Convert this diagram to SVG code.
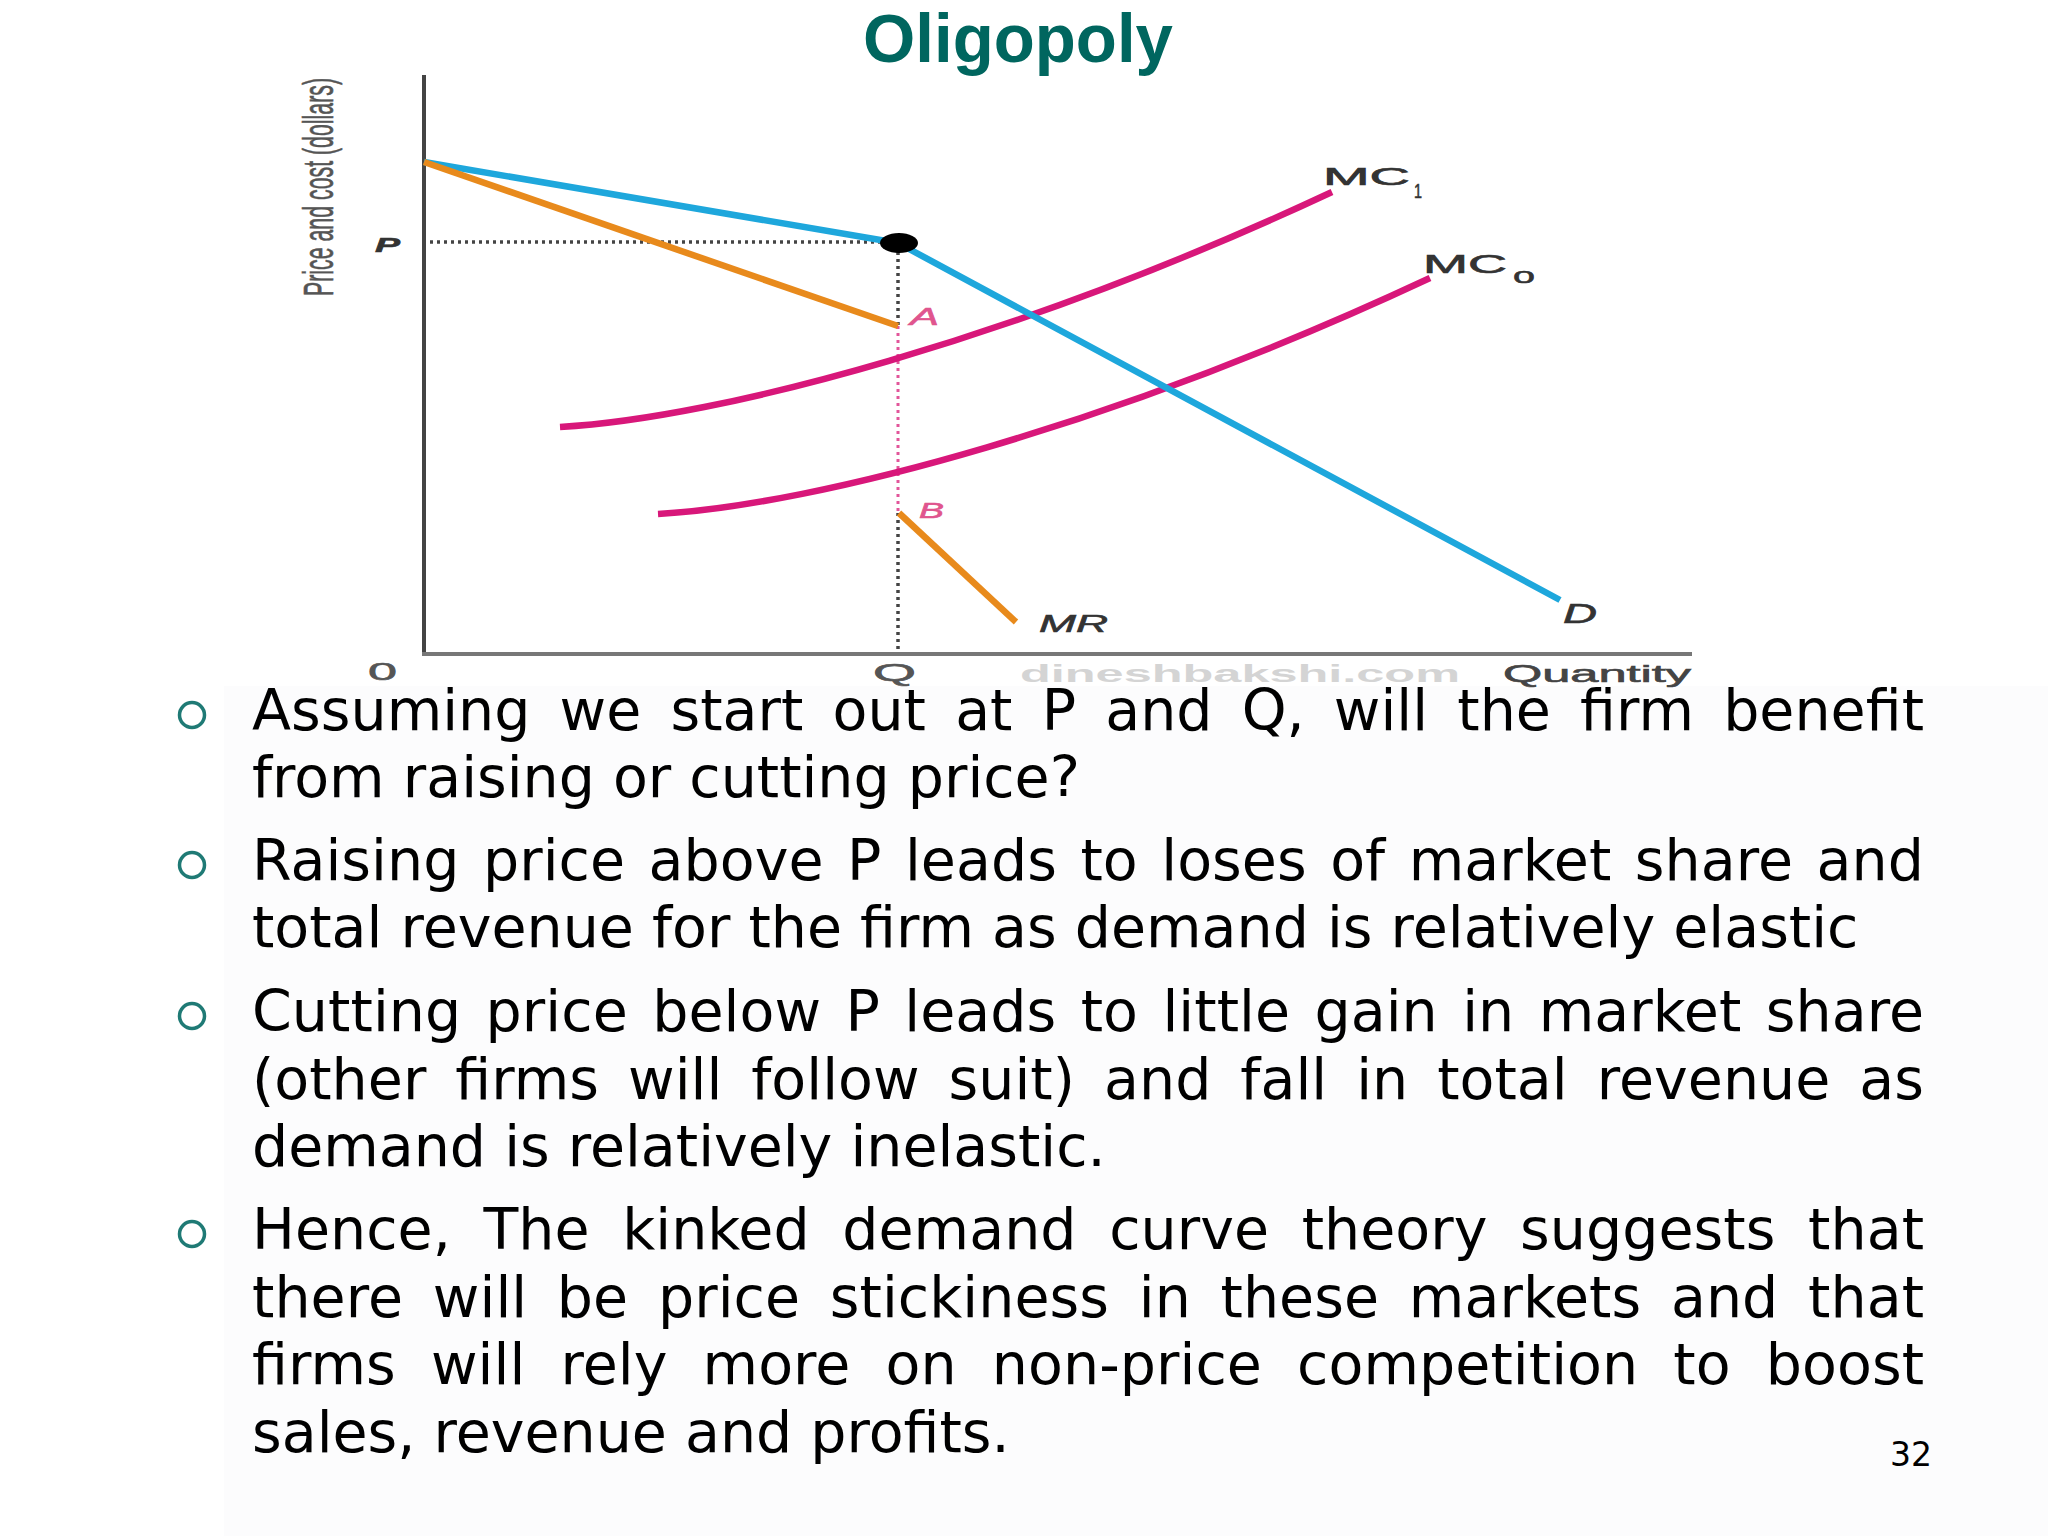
<svg xmlns="http://www.w3.org/2000/svg" width="2048" height="1536" viewBox="0 0 2048 1536">
  <style>
    .body { font-family: "DejaVu Sans", Verdana, sans-serif; font-size: 57px; fill: #000; }
    .lbl { font-family: "Liberation Sans", Arial, sans-serif; fill: #333; stroke: #333; stroke-width: 0.6; }
    .it { font-style: italic; }
    .curve { fill: none; stroke-width: 6.5; stroke-linecap: butt; stroke-linejoin: round; }
    .demand { stroke: #1ea7dc; }
    .mr { stroke: #e88a1c; }
    .mc { stroke: #d8177a; }
    .dots { fill: none; stroke: #444; stroke-width: 3.5; stroke-dasharray: 3 4; }
    .pinkdots { fill: none; stroke: #e2559a; stroke-width: 3; stroke-dasharray: 3 4; }
    .bullet { fill: none; stroke: #1f7a75; stroke-width: 3.5; }
  </style>
  <rect x="0" y="0" width="2048" height="1536" fill="#ffffff"/>
  <rect x="224" y="686" width="1824" height="850" fill="#fcfcfd"/>

  <text id="title" x="863" y="62" font-family="'Liberation Sans', Arial, sans-serif" font-weight="bold" font-size="68" fill="#00665f" textLength="310" lengthAdjust="spacingAndGlyphs">Oligopoly</text>

  <g id="chart">
    <g id="axes">
      <line x1="424" y1="75" x2="424" y2="655" stroke="#444" stroke-width="4"/>
      <line x1="422" y1="654" x2="1692" y2="654" stroke="#777" stroke-width="4"/>
      <text class="lbl" x="333" y="187" font-size="42" style="fill:#555;stroke:#555" text-anchor="middle" transform="rotate(-90 333 187)" textLength="218" lengthAdjust="spacingAndGlyphs">Price and cost (dollars)</text>
      <text class="lbl" x="368" y="680" font-size="24" style="fill:#555;stroke:#555" textLength="29" lengthAdjust="spacingAndGlyphs">0</text>
      <text class="lbl" x="873" y="681" font-size="24" style="fill:#555;stroke:#555" textLength="43" lengthAdjust="spacingAndGlyphs">Q</text>
      <text class="lbl" x="1020" y="682" font-size="24" font-weight="bold" style="fill:#d4d4d4;stroke:none" textLength="440" lengthAdjust="spacingAndGlyphs">dineshbakshi.com</text>
      <text class="lbl" x="1503" y="682" font-size="24" style="fill:#444;stroke:#444" textLength="188" lengthAdjust="spacingAndGlyphs">Quantity</text>
      <text class="lbl it" x="375" y="252" font-size="21" font-weight="bold" textLength="25" lengthAdjust="spacingAndGlyphs">P</text>
    </g>

    <g id="connectors">
      <line class="dots" x1="430" y1="242" x2="882" y2="242"/>
      <line class="dots" x1="898" y1="252" x2="898" y2="326"/>
      <line class="pinkdots" x1="898" y1="326" x2="898" y2="513"/>
      <line class="dots" x1="898" y1="513" x2="898" y2="652"/>
    </g>

    <g id="mc1">
      <path class="curve mc" d="M560,427 C720,418 1020,338 1332,192"/>
      <text class="lbl" x="1323" y="185" font-size="24" textLength="87" lengthAdjust="spacingAndGlyphs">MC</text>
      <text class="lbl" x="1414" y="198" font-size="20" textLength="8" lengthAdjust="spacingAndGlyphs">1</text>
    </g>
    <g id="mc0">
      <path class="curve mc" d="M658,514 C818,505 1118,424 1430,278"/>
      <text class="lbl" x="1423" y="273" font-size="25" textLength="84" lengthAdjust="spacingAndGlyphs">MC</text>
      <text class="lbl" x="1513" y="283" font-size="22" textLength="22" lengthAdjust="spacingAndGlyphs">o</text>
    </g>
    <g id="demand">
      <path class="curve demand" d="M424,162 L898,243 L1560,600"/>
      <text class="lbl it" x="1563" y="623" font-size="27" textLength="34" lengthAdjust="spacingAndGlyphs">D</text>
    </g>
    <g id="mr">
      <path class="curve mr" d="M424,162 L898,326"/>
      <path class="curve mr" d="M899,513 L1016,622"/>
      <text class="lbl it" x="1039" y="632" font-size="24" textLength="69" lengthAdjust="spacingAndGlyphs">MR</text>
    </g>
    <g id="point-A">
      <text class="lbl it" x="910" y="325" font-size="24" style="fill:#e0558e;stroke:#e0558e" textLength="29" lengthAdjust="spacingAndGlyphs">A</text>
    </g>
    <g id="point-B">
      <text class="lbl it" x="919" y="518" font-size="22" style="fill:#e0558e;stroke:#e0558e" textLength="25" lengthAdjust="spacingAndGlyphs">B</text>
    </g>
    <g id="kink">
      <ellipse cx="899" cy="243" rx="19" ry="10" fill="#000"/>
    </g>
  </g>

  <g id="bullets">
    <circle class="bullet" cx="192" cy="715" r="12.5"/>
    <circle class="bullet" cx="192" cy="865" r="12.5"/>
    <circle class="bullet" cx="192" cy="1016" r="12.5"/>
    <circle class="bullet" cx="192" cy="1234" r="12.5"/>
  </g>

  <g id="text">
    <text class="body" x="252" y="730" word-spacing="11" textLength="1672" lengthAdjust="spacing">Assuming we start out at P and Q, will the firm benefit</text>
    <text class="body" x="252" y="797">from raising or cutting price?</text>
    <text class="body" x="252" y="880" word-spacing="5.2" textLength="1672" lengthAdjust="spacing">Raising price above P leads to loses of market share and</text>
    <text class="body" x="252" y="947">total revenue for the firm as demand is relatively elastic</text>
    <text class="body" x="252" y="1031" word-spacing="6.2" textLength="1672" lengthAdjust="spacing">Cutting price below P leads to little gain in market share</text>
    <text class="body" x="252" y="1099" word-spacing="10.8" textLength="1672" lengthAdjust="spacing">(other firms will follow suit) and fall in total revenue as</text>
    <text class="body" x="252" y="1166">demand is relatively inelastic.</text>
    <text class="body" x="252" y="1249" word-spacing="14.4" textLength="1672" lengthAdjust="spacing">Hence, The kinked demand curve theory suggests that</text>
    <text class="body" x="252" y="1317" word-spacing="11.5" textLength="1672" lengthAdjust="spacing">there will be price stickiness in these markets and that</text>
    <text class="body" x="252" y="1384" word-spacing="16.9" textLength="1672" lengthAdjust="spacing">firms will rely more on non-price competition to boost</text>
    <text class="body" x="252" y="1452">sales, revenue and profits.</text>
    <text class="body" x="1890" y="1466" style="font-size:33px">32</text>
  </g>
</svg>
